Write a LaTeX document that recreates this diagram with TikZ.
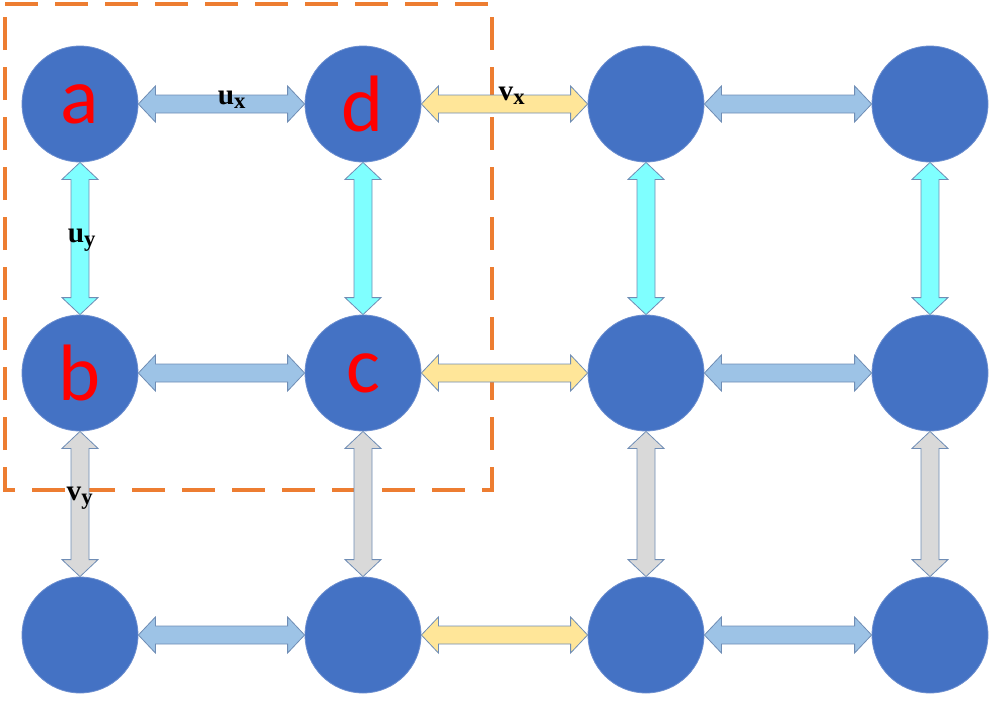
\documentclass[tikz,border=0pt]{standalone}
\usepackage{fontspec}
\setmainfont{Liberation Serif}
\newfontfamily\letf{Carlito}
\usetikzlibrary{calc}
\definecolor{nodeblue}{HTML}{4472C4}
\definecolor{nodeedge}{HTML}{6C8ECF}
\definecolor{abl}{HTML}{9DC3E6}
\definecolor{acy}{HTML}{7FFFFF}
\definecolor{aye}{HTML}{FFE699}
\definecolor{agr}{HTML}{D9D9D9}
\definecolor{aedge}{HTML}{6F8DB5}
\definecolor{dorange}{HTML}{ED7D31}
\tikzset{
  dot/.style={circle,fill=nodeblue,draw=nodeedge,line width=0.6pt,minimum size=87pt,inner sep=0pt,text=red,font=\letf\fontsize{60}{60}\selectfont},
  arrbox/.style={draw=aedge,line width=0.6pt,line join=miter},
  lab/.style={font=\bfseries\fontsize{22}{22}\selectfont,inner sep=0pt}
}
\newcommand\hArr[3]{\path[arrbox,fill=#3] let \p1=(#1.east), \p2=(#2.west) in
  (\x1,\y1) -- (\x1+12.75pt,\y1+13.5pt) -- (\x1+12.75pt,\y1+6.75pt) -- (\x2-12.75pt,\y2+6.75pt) -- (\x2-12.75pt,\y2+13.5pt) -- (\x2,\y2)
  -- (\x2-12.75pt,\y2-13.5pt) -- (\x2-12.75pt,\y2-6.75pt) -- (\x1+12.75pt,\y1-6.75pt) -- (\x1+12.75pt,\y1-13.5pt) -- cycle;}
\newcommand\vArr[3]{\path[arrbox,fill=#3] let \p1=(#1.south), \p2=(#2.north) in
  (\x1,\y1) -- (\x1+13.5pt,\y1-12.75pt) -- (\x1+6.75pt,\y1-12.75pt) -- (\x2+6.75pt,\y2+12.75pt) -- (\x2+13.5pt,\y2+12.75pt) -- (\x2,\y2)
  -- (\x2-13.5pt,\y2+12.75pt) -- (\x2-6.75pt,\y2+12.75pt) -- (\x1-6.75pt,\y1-12.75pt) -- (\x1-13.5pt,\y1-12.75pt) -- cycle;}
\begin{document}
\begin{tikzpicture}[x=0.75pt,y=-0.75pt]
\useasboundingbox (0,0) rectangle (996,700);
\draw[dorange,line width=3pt,dash pattern=on 25pt off 12.5pt] (5,4) -- (492,4) -- (492,490) -- (5,490) -- cycle;
\foreach \n/\xx/\yy/\t in {a/80/104/a,d/363/104/d,e/646/104/,f/930/104/,b/80/373/b,c/363/373/c,g/646/373/,h/930/373/,i/80/635/,j/363/635/,k/646/635/,l/930/635/}
  \node[dot] (\n) at (\xx,\yy) {\t};
\foreach \s/\r/\c in {a/d/abl,d/e/aye,e/f/abl,b/c/abl,c/g/aye,g/h/abl,i/j/abl,j/k/aye,k/l/abl}
  {\hArr{\s}{\r}{\c}}
\foreach \s/\r/\c in {a/b/acy,d/c/acy,e/g/acy,f/h/acy,b/i/agr,c/j/agr,g/k/agr,h/l/agr}
  {\vArr{\s}{\r}{\c}}
\node[lab] (ux) at (232,100) {u\textsubscript{\fontsize{17}{17}\selectfont x}};
\node[lab] (vx) at (512,96) {v\textsubscript{\fontsize{17}{17}\selectfont x}};
\node[lab] (uy) at (82,240) {u\textsubscript{\fontsize{17}{17}\selectfont y}};
\node[lab] (vy) at (80,498) {v\textsubscript{\fontsize{17}{17}\selectfont y}};
\end{tikzpicture}
\end{document}
